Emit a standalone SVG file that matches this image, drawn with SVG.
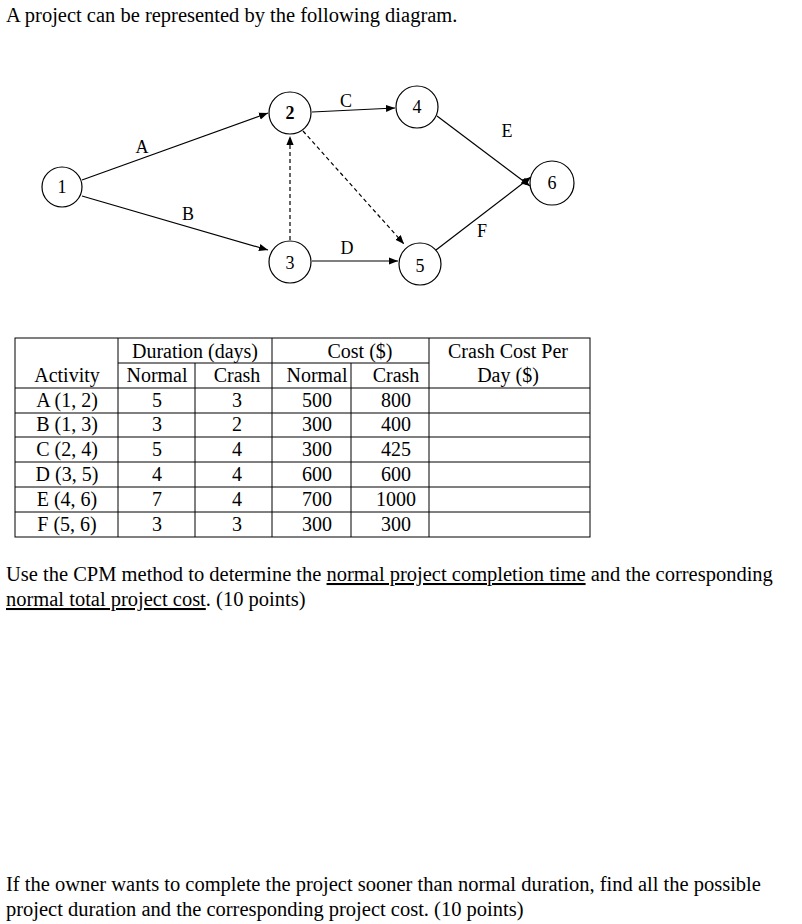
<svg xmlns="http://www.w3.org/2000/svg" width="802" height="924" viewBox="0 0 802 924">
<style>
text{font-family:"Liberation Serif","Times New Roman",serif;fill:#000}
.t{font-size:20.5px}
.n{font-size:18px;text-anchor:middle}
.c{font-size:20px;text-anchor:middle}
circle{fill:#fff;stroke:#000;stroke-width:1.2}
.e{stroke:#000;stroke-width:1.2;fill:none;marker-end:url(#ah)}
.d{stroke-dasharray:4,3}
.g line{stroke:#000;stroke-width:1}
</style>
<defs><marker id="ah" viewBox="0 0 10 10" refX="10" refY="5" markerWidth="9" markerHeight="9" orient="auto" markerUnits="userSpaceOnUse"><path d="M0,1 L10,5 L0,9 z" fill="#000"/></marker></defs>
<rect width="802" height="924" fill="#fff"/>
<text class="t" x="6" y="22">A project can be represented by the following diagram.</text>
<g id="connectors">
<line class="e" x1="82" y1="180" x2="268" y2="113"/>
<line class="e" x1="82" y1="196" x2="268" y2="250"/>
<line class="e" x1="312" y1="112" x2="395" y2="108"/>
<line class="e d" x1="290" y1="240" x2="290" y2="136"/>
<line class="e d" x1="303" y1="131" x2="404" y2="244"/>
<line class="e" x1="312" y1="261" x2="398" y2="261"/>
<line class="e" x1="437" y1="116" x2="530" y2="186"/>
<line class="e" x1="436" y1="250" x2="531" y2="177"/>
<text class="n" x="142" y="153">A</text>
<text class="n" x="188" y="220">B</text>
<text class="n" x="346" y="107">C</text>
<text class="n" x="347" y="254">D</text>
<text class="n" x="507" y="137">E</text>
<text class="n" x="482" y="237">F</text>
</g>
<g id="n1"><circle cx="62" cy="187" r="20"/><text class="n" x="62" y="193">1</text></g>
<g id="n2"><circle cx="290" cy="113" r="21"/><text class="n" x="290" y="119" font-weight="bold">2</text></g>
<g id="n3"><circle cx="290" cy="262" r="21"/><text class="n" x="290" y="269">3</text></g>
<g id="n4"><circle cx="417" cy="107" r="21"/><text class="n" x="417" y="113">4</text></g>
<g id="n5"><circle cx="420" cy="264" r="21"/><text class="n" x="420" y="272">5</text></g>
<g id="n6"><circle cx="552" cy="183" r="22"/><text class="n" x="552" y="189">6</text></g>
<g id="table" class="g">
<rect x="15" y="338" width="575" height="199" fill="none" stroke="#000" stroke-width="1"/>
<line x1="118" y1="338" x2="118" y2="537"/>
<line x1="272" y1="338" x2="272" y2="537"/>
<line x1="429" y1="338" x2="429" y2="537"/>
<line x1="195" y1="363" x2="195" y2="537"/>
<line x1="351" y1="363" x2="351" y2="537"/>
<line x1="118" y1="363" x2="429" y2="363"/>
<line x1="15" y1="388" x2="590" y2="388"/>
<line x1="15" y1="413" x2="590" y2="413"/>
<line x1="15" y1="437" x2="590" y2="437"/>
<line x1="15" y1="462" x2="590" y2="462"/>
<line x1="15" y1="487" x2="590" y2="487"/>
<line x1="15" y1="512" x2="590" y2="512"/>
<text class="c" x="195" y="358">Duration (days)</text>
<text class="c" x="360" y="358">Cost ($)</text>
<text class="c" x="508" y="358">Crash Cost Per</text>
<text class="c" x="508" y="382">Day ($)</text>
<text class="c" x="67" y="382">Activity</text>
<text class="c" x="157" y="382">Normal</text>
<text class="c" x="237" y="382">Crash</text>
<text class="c" x="317" y="382">Normal</text>
<text class="c" x="396" y="382">Crash</text>
<text class="c" x="67" y="407">A (1, 2)</text><text class="c" x="157" y="407">5</text><text class="c" x="237" y="407">3</text><text class="c" x="317" y="407">500</text><text class="c" x="396" y="407">800</text>
<text class="c" x="67" y="431">B (1, 3)</text><text class="c" x="157" y="431">3</text><text class="c" x="237" y="431">2</text><text class="c" x="317" y="431">300</text><text class="c" x="396" y="431">400</text>
<text class="c" x="67" y="456">C (2, 4)</text><text class="c" x="157" y="456">5</text><text class="c" x="237" y="456">4</text><text class="c" x="317" y="456">300</text><text class="c" x="396" y="456">425</text>
<text class="c" x="67" y="481">D (3, 5)</text><text class="c" x="157" y="481">4</text><text class="c" x="237" y="481">4</text><text class="c" x="317" y="481">600</text><text class="c" x="396" y="481">600</text>
<text class="c" x="67" y="506">E (4, 6)</text><text class="c" x="157" y="506">7</text><text class="c" x="237" y="506">4</text><text class="c" x="317" y="506">700</text><text class="c" x="396" y="506">1000</text>
<text class="c" x="67" y="531">F (5, 6)</text><text class="c" x="157" y="531">3</text><text class="c" x="237" y="531">3</text><text class="c" x="317" y="531">300</text><text class="c" x="396" y="531">300</text>
</g>
<text class="t" x="6" y="581">Use the CPM method to determine the <tspan text-decoration="underline">normal project completion time</tspan> and the corresponding</text>
<text class="t" x="6" y="606"><tspan text-decoration="underline">normal total project cost</tspan>. (10 points)</text>
<text class="t" x="6" y="891">If the owner wants to complete the project sooner than normal duration, find all the possible</text>
<text class="t" x="6" y="916">project duration and the corresponding project cost.  (10 points)</text>
</svg>
